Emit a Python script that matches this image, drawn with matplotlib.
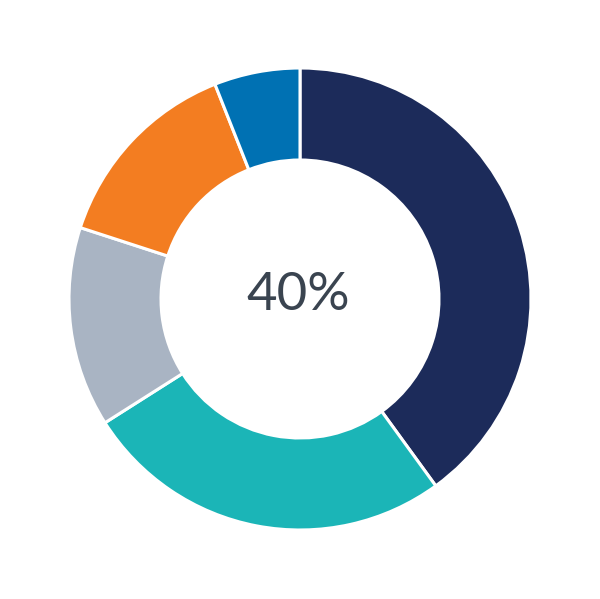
import matplotlib
matplotlib.use("Agg")
import matplotlib.pyplot as plt

# share of each segment, clockwise from 12 o'clock
shares = [40, 26, 14, 14, 6]
colors = ["#1c2b5a", "#1bb5b7", "#a9b4c3", "#f37d21", "#0071b3"]
center_label = "40%"

fig = plt.figure(figsize=(6, 5.99), dpi=100)
ax = fig.add_axes([0, 0, 1, 1])

ax.pie(shares, colors=colors, startangle=90, counterclock=False,
       radius=231, center=(0, 0),
       wedgeprops=dict(width=92, edgecolor="white", linewidth=2.2))

ax.text(-2, 4, center_label, ha="center", va="center",
        fontsize=38, color="#3a4450", family=["Lato", "DejaVu Sans"],
        fontweight="normal")

ax.set_xlim(-300, 300)
ax.set_ylim(-300, 299)
ax.set_aspect("equal")
ax.axis("off")

fig.savefig("out.png", dpi=100, facecolor="white")
